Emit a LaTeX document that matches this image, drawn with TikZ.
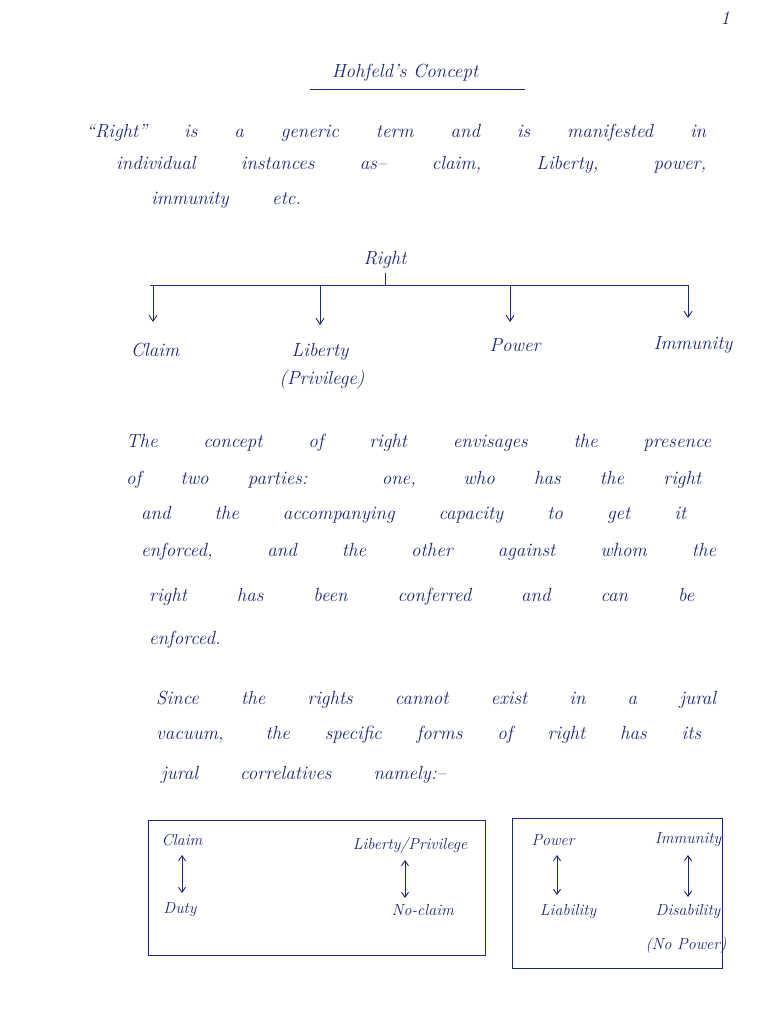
\documentclass[tikz,border=0pt]{standalone}
\usetikzlibrary{arrows.meta}
\definecolor{ink}{RGB}{30,40,120}
\begin{document}
\begin{tikzpicture}[x=1pt,y=-1pt,
  every node/.style={text=ink,font=\fontsize{19}{22}\selectfont\itshape,inner sep=1pt},
  sm/.style={font=\fontsize{16}{19}\selectfont\itshape},
  ln/.style={draw=ink,line width=0.9pt},
  arr/.style={ln,-{Straight Barb[length=6pt,width=8pt]}},
  darr/.style={ln,{Straight Barb[length=5pt,width=7pt]}-{Straight Barb[length=5pt,width=7pt]}},
  box/.style={ln,line width=1pt}]
\useasboundingbox (0,0) rectangle (768,1024);
\fill[white] (0,0) rectangle (768,1024);
\newcommand{\tline}[4]{\node[anchor=west] (#1) at (#2) {\makebox[#3pt][s]{#4}};}
\node (pg) at (725,18) {1};
\node (title) at (405,73) {Hohfeld's Concept};
\draw[ln] (310,89) -- (525,89);
\tline{p1}{85,133}{620}{``Right'' is a generic term and is manifested in}
\tline{p2}{115,165}{590}{individual instances as-- claim, Liberty, power,}
\tline{p3}{150,200}{150}{immunity etc.}
\node (right) at (385,260) {Right};
\coordinate (rb) at (385,285);
\draw[ln] (385,273) -- (rb);
\draw[ln] (150,285) -- (688,285);
\coordinate (t1) at (153,285);\coordinate (t2) at (320,285);
\coordinate (t3) at (510,285);\coordinate (t4) at (688,285);
\node (claim) at (155,350) {Claim};
\node (lib) at (320,352) {Liberty};
\node (priv) at (322,380) {(Privilege)};
\node (pow) at (515,345) {Power};
\node (imm) at (693,345) {Immunity};
\coordinate (e1) at (153,322);\coordinate (e2) at (320,325);
\coordinate (e3) at (510,322);\coordinate (e4) at (688,318);
\draw[arr] (t1)--(e1); \draw[arr] (t2)--(e2); \draw[arr] (t3)--(e3); \draw[arr] (t4)--(e4);
\tline{q1}{125,443}{585}{The concept of right envisages the presence}
\tline{q2}{125,480}{575}{of two parties: one, who has the right}
\tline{q3}{140,515}{545}{and the accompanying capacity to get it}
\tline{q4}{140,552}{575}{enforced, and the other against whom the}
\tline{q5}{148,597}{545}{right has been conferred and can be}
\tline{q6}{148,640}{90}{enforced.}
\tline{r1}{155,700}{560}{Since the rights cannot exist in a jural}
\tline{r2}{155,735}{545}{vacuum, the specific forms of right has its}
\tline{r3}{160,775}{285}{jural correlatives namely:--}
\draw[box] (148,820) rectangle (485,955);
\node[sm] (bc) at (182,840) {Claim};
\node[sm] (bd) at (180,910) {Duty};
\draw[darr] (182,855) -- (182,893);
\node[sm] (bl) at (410,845) {Liberty/Privilege};
\node[sm] (bn) at (423,910) {No-claim};
\draw[darr] (405,860) -- (405,898);
\draw[box] (512,818) rectangle (722,968);
\node[sm] (bp) at (553,840) {Power};
\node[sm] (bli) at (568,912) {Liability};
\draw[darr] (557,855) -- (557,895);
\node[sm] (bi) at (688,840) {Immunity};
\node[sm] (bdi) at (688,912) {Disability};
\node[sm] (bnp) at (686,945) {(No Power)};
\draw[darr] (688,855) -- (688,897);
\end{tikzpicture}
\end{document}
